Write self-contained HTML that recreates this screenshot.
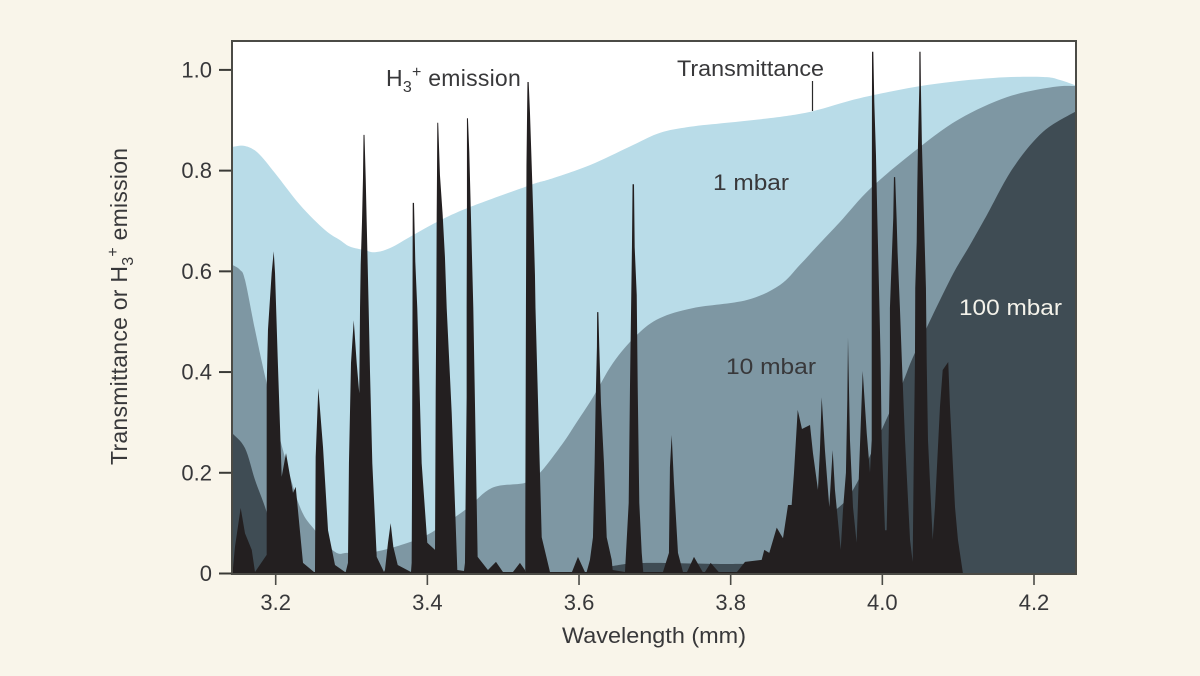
<!DOCTYPE html>
<html lang="en">
<head>
<meta charset="utf-8">
<title>Transmittance and H3+ emission</title>
<style>
  html, body { margin: 0; padding: 0; background: #f9f5ea; }
  body { width: 1200px; height: 676px; overflow: hidden; }
  svg { display: block; }
  text { font-family: "Liberation Sans", sans-serif; fill: #38383a; }
</style>
</head>
<body>
<svg id="chart" xmlns="http://www.w3.org/2000/svg" width="1200" height="676" viewBox="0 0 1200 676">
  <rect x="0" y="0" width="1200" height="676" fill="#f9f5ea"/>
  <rect x="232" y="41" width="844" height="533" fill="#ffffff"/>
  <g id="areas"></g>
  <g id="emission"></g>
  <rect x="232" y="41" width="844" height="533" fill="none" stroke="#4b4b46" stroke-width="2"/>
  <g id="ticks"></g>
  <line x1="812.5" y1="81" x2="812.5" y2="111" stroke="#2a2a2a" stroke-width="1.2"/>

  <text x="386" y="86" font-size="23" letter-spacing="0.25">H<tspan font-size="16" dy="6">3</tspan><tspan font-size="16" dy="-15">+</tspan><tspan dy="9"> emission</tspan></text>
  <text x="677" y="76" font-size="22" textLength="147" lengthAdjust="spacingAndGlyphs">Transmittance</text>
  <text x="713" y="190" font-size="22" textLength="76" lengthAdjust="spacingAndGlyphs">1 mbar</text>
  <text x="726" y="374" font-size="22" textLength="90" lengthAdjust="spacingAndGlyphs">10 mbar</text>
  <text x="959" y="315" font-size="22" textLength="103" lengthAdjust="spacingAndGlyphs" style="fill:#f4f2ea">100 mbar</text>
  <text x="562" y="643" font-size="22" textLength="184" lengthAdjust="spacingAndGlyphs">Wavelength (mm)</text>
  <text transform="translate(127,465) rotate(-90)" x="0" y="0" font-size="23" letter-spacing="0.25">Transmittance or H<tspan font-size="16" dy="6">3</tspan><tspan font-size="16" dy="-15">+</tspan><tspan dy="9"> emission</tspan></text>
</svg>

<script>
// ---- Chart data ----
const xTicks = [3.2, 3.4, 3.6, 3.8, 4.0, 4.2];
const xTickLabels = ["3.2", "3.4", "3.6", "3.8", "4.0", "4.2"];
const yTicks = [0, 0.2, 0.4, 0.6, 0.8, 1.0];
const yTickLabels = ["0", "0.2", "0.4", "0.6", "0.8", "1.0"];

const mbar1Wavelength = [3.1424,3.1595,3.1767,3.1991,3.2320,3.2650,3.2848,3.2980,3.3176,3.3309,3.3505,3.3811,3.4127,3.4535,3.5353,3.5616,3.6144,3.6672,3.7066,3.7463,3.7951,3.8610,3.9081,3.9707,4.0590,4.1461,4.2120,4.2344,4.2554];
const mbar1Values = [0.847,0.849,0.835,0.795,0.732,0.682,0.662,0.649,0.642,0.638,0.646,0.672,0.698,0.726,0.771,0.783,0.811,0.848,0.875,0.887,0.895,0.906,0.918,0.944,0.970,0.984,0.986,0.980,0.969];

const mbar10Wavelength = [3.1424,3.1529,3.1595,3.1727,3.1872,3.2096,3.2320,3.2518,3.2782,3.2953,3.3309,3.3744,3.4061,3.4496,3.4852,3.5287,3.5485,3.5788,3.5946,3.6184,3.6448,3.6765,3.7066,3.7502,3.8214,3.8650,3.8914,3.9178,3.9441,3.9859,4.0496,4.1023,4.1643,4.2250,4.2554];
const mbar10Values = [0.613,0.603,0.583,0.484,0.384,0.245,0.132,0.086,0.043,0.041,0.043,0.061,0.082,0.126,0.170,0.180,0.200,0.259,0.295,0.350,0.418,0.474,0.507,0.527,0.543,0.573,0.613,0.656,0.698,0.767,0.847,0.903,0.946,0.966,0.968];

const mbar100Wavelength = [3.1424,3.1595,3.1727,3.1859,3.1991,3.2122,3.2320,3.3639,3.4958,3.6144,3.6448,3.6896,3.8083,3.8412,3.8914,3.9415,3.9665,4.0008,4.0272,4.0430,4.0892,4.1155,4.1379,4.1722,4.2118,4.2554];
const mbar100Values = [0.279,0.249,0.186,0.132,0.067,0.017,0.003,0.001,0.001,0.003,0.015,0.021,0.019,0.027,0.086,0.130,0.180,0.291,0.380,0.438,0.583,0.652,0.712,0.805,0.877,0.918];

const emissionWavelength = [
  3.1430,3.1463,3.1538,3.1595,3.1684,3.1727,
  3.1881,3.1881,3.1898,3.1947,3.1974,3.1991,3.2026,3.2079,3.2136,3.2228,3.2264,3.2360,3.2505,
  3.2518,3.2527,3.2562,3.2624,3.2690,3.2782,3.2914,
  3.2923,3.2953,3.2966,3.2993,3.3029,3.3068,3.3102,3.3112,3.3121,3.3138,3.3151,3.3158,3.3171,3.3187,3.3200,3.3213,3.3226,3.3244,3.3274,3.3332,3.3428,
  3.3441,3.3481,3.3516,3.3551,3.3609,3.3784,
  3.3793,3.3797,3.3804,3.3807,3.3824,3.3841,3.3867,3.3925,3.3999,3.4101,
  3.4110,3.4118,3.4123,3.4127,3.4131,3.4143,3.4166,3.4202,3.4232,3.4255,3.4321,3.4395,3.4483,
  3.4496,3.4518,3.4518,3.4522,3.4522,3.4535,3.4553,3.4571,3.4589,3.4606,3.4663,3.4799,
  3.4905,3.4997,3.5129,3.5221,3.5287,
  3.5291,3.5291,3.5300,3.5307,3.5320,3.5336,3.5353,3.5376,3.5397,3.5419,3.5426,3.5508,3.5617,
  3.5907,3.5986,3.6078,3.6101,
  3.6144,3.6184,3.6206,3.6219,3.6236,3.6239,3.6255,3.6267,3.6289,3.6329,3.6365,3.6431,3.6444,
  3.6606,3.6655,3.6672,3.6689,3.6698,3.6706,3.6725,3.6734,3.6761,3.6774,3.6795,3.6827,3.6847,
  3.7107,3.7186,3.7199,3.7222,3.7252,3.7305,3.7371,3.7424,3.7516,3.7631,3.7661,3.7736,3.7842,3.8083,3.8189,3.8409,3.8443,3.8509,
  3.8607,3.8690,3.8756,3.8804,3.8835,3.8884,3.8940,3.9046,3.9085,3.9151,3.9177,3.9200,3.9243,3.9300,3.9345,3.9375,3.9451,3.9481,3.9520,3.9538,3.9547,3.9573,3.9613,3.9661,3.9692,3.9741,3.9794,3.9837,
  3.9860,3.9860,3.9863,3.9864,3.9881,3.9894,3.9916,3.9933,3.9959,3.9978,3.9991,4.0035,4.0057,
  4.0083,4.0100,4.0100,4.0127,4.0144,4.0153,4.0169,4.0188,4.0201,4.0232,4.0258,4.0299,4.0365,4.0400,
  4.0417,4.0430,4.0434,4.0453,4.0460,4.0470,4.0487,4.0488,4.0504,4.0509,4.0522,4.0540,4.0558,4.0575,4.0585,4.0602,4.0664,
  4.0694,4.0760,4.0796,4.0869,4.0892,4.0958,4.0997,4.1063
];
const emissionValues = [
  0,0.053,0.130,0.080,0.047,0.003,
  0.037,0.370,0.484,0.597,0.640,0.597,0.430,0.192,0.239,0.160,0.172,0.021,0.003,
  0.003,0.231,0.368,0.251,0.086,0.017,0.003,
  0.003,0.021,0.219,0.418,0.503,0.418,0.358,0.527,0.613,0.698,0.785,0.871,0.871,0.785,0.698,0.613,0.527,0.398,0.219,0.033,0.003,
  0.007,0.061,0.100,0.053,0.017,0.003,
  0.021,0.152,0.527,0.736,0.736,0.619,0.527,0.219,0.061,0.047,
  0.358,0.527,0.712,0.791,0.895,0.895,0.791,0.712,0.628,0.527,0.319,0.007,0.005,
  0.021,0.350,0.527,0.732,0.904,0.904,0.837,0.732,0.626,0.527,0.033,0.007,
  0.023,0.003,0.003,0.021,0.007,
  0.003,0.080,0.527,0.811,0.976,0.976,0.916,0.811,0.712,0.593,0.527,0.072,0.003,
  0.003,0.033,0.003,0.003,
  0.027,0.072,0.219,0.339,0.450,0.519,0.519,0.450,0.339,0.219,0.072,0.027,0.007,
  0.003,0.140,0.370,0.553,0.648,0.773,0.773,0.648,0.553,0.370,0.140,0.041,0.003,
  0.003,0.041,0.211,0.275,0.180,0.041,0.003,0.003,0.033,0.003,0.003,0.021,0.003,0.003,0.023,0.027,0.047,0.041,
  0.091,0.070,0.136,0.136,0.200,0.325,0.287,0.295,0.239,0.166,0.245,0.350,0.245,0.132,0.245,0.166,0.047,0.126,0.200,0.344,0.468,0.265,0.132,0.061,0.200,0.402,0.279,0.200,
  0.265,0.547,0.936,1.036,1.036,0.936,0.831,0.712,0.547,0.420,0.265,0.086,0.086,
  0.265,0.420,0.527,0.638,0.706,0.787,0.787,0.706,0.638,0.527,0.420,0.265,0.067,0.023,
  0.265,0.420,0.567,0.658,0.757,0.851,0.964,1.036,1.036,0.964,0.851,0.757,0.658,0.567,0.420,0.265,0.067,
  0.132,0.331,0.404,0.420,0.331,0.132,0.067,0
];

// ---- Axis functions ----
function xScale(w) { return 275.7 + (w - 3.2) * 758.3; }
function yScale(v) { return 573.5 - v * 503.6; }

const SVG_NS = 'http://www.w3.org/2000/svg';

function smoothArea(wavelengths, values) {
  const pts = wavelengths.map(function (w, i) { return [xScale(w), yScale(values[i])]; });
  let d = 'M' + pts[0][0].toFixed(2) + ' ' + yScale(0).toFixed(2) + ' L' + pts[0][0].toFixed(2) + ' ' + pts[0][1].toFixed(2);
  for (let i = 0; i < pts.length - 1; i++) {
    const p0 = pts[Math.max(0, i - 1)], p1 = pts[i], p2 = pts[i + 1], p3 = pts[Math.min(pts.length - 1, i + 2)];
    const c1x = p1[0] + (p2[0] - p0[0]) / 6, c1y = p1[1] + (p2[1] - p0[1]) / 6;
    const c2x = p2[0] - (p3[0] - p1[0]) / 6, c2y = p2[1] - (p3[1] - p1[1]) / 6;
    d += ' C' + c1x.toFixed(2) + ' ' + c1y.toFixed(2) + ' ' + c2x.toFixed(2) + ' ' + c2y.toFixed(2) + ' ' + p2[0].toFixed(2) + ' ' + p2[1].toFixed(2);
  }
  d += ' L' + pts[pts.length - 1][0].toFixed(2) + ' ' + yScale(0).toFixed(2) + ' Z';
  return d;
}

// ---- Areas ----
const areasGroup = document.getElementById('areas');

const area1 = document.createElementNS(SVG_NS, 'path');


area1.setAttribute('d', smoothArea(mbar1Wavelength, mbar1Values));
area1.setAttribute('fill', '#b9dce8');
areasGroup.appendChild(area1);

const area10 = document.createElementNS(SVG_NS, 'path');


area10.setAttribute('d', smoothArea(mbar10Wavelength, mbar10Values));
area10.setAttribute('fill', '#7e97a3');
areasGroup.appendChild(area10);

const area100 = document.createElementNS(SVG_NS, 'path');


area100.setAttribute('d', smoothArea(mbar100Wavelength, mbar100Values));
area100.setAttribute('fill', '#3f4c54');
areasGroup.appendChild(area100);

// ---- Emission spectrum ----
const emissionGroup = document.getElementById('emission');
let emissionD = 'M' + xScale(emissionWavelength[0]).toFixed(2) + ' ' + yScale(0).toFixed(2);
emissionWavelength.forEach(function (w, i) {
  emissionD += ' L' + xScale(w).toFixed(2) + ' ' + yScale(emissionValues[i]).toFixed(2);
});
emissionD += ' L' + xScale(emissionWavelength[emissionWavelength.length - 1]).toFixed(2) + ' ' + yScale(0).toFixed(2) + ' Z';
const emissionPath = document.createElementNS(SVG_NS, 'path');


emissionPath.setAttribute('d', emissionD);
emissionPath.setAttribute('fill', '#231f20');
emissionGroup.appendChild(emissionPath);

// ---- Ticks ----
const ticksGroup = document.getElementById('ticks');

xTicks.forEach(function (t, i) {
  const line = document.createElementNS(SVG_NS, 'line');
  
  
  line.setAttribute('x1', xScale(t));
  line.setAttribute('x2', xScale(t));
  line.setAttribute('y1', 575);
  line.setAttribute('y2', 585);
  line.setAttribute('stroke', '#4b4b46');
  line.setAttribute('stroke-width', 1.6);
  ticksGroup.appendChild(line);

  const label = document.createElementNS(SVG_NS, 'text');
  
  
  label.setAttribute('x', xScale(t));
  label.setAttribute('y', 610);
  label.setAttribute('text-anchor', 'middle');
  label.setAttribute('font-size', 22);
  label.textContent = xTickLabels[i];
  ticksGroup.appendChild(label);
});

yTicks.forEach(function (t, i) {
  const line = document.createElementNS(SVG_NS, 'line');
  
  
  line.setAttribute('x1', 219);
  line.setAttribute('x2', 231);
  line.setAttribute('y1', yScale(t));
  line.setAttribute('y2', yScale(t));
  line.setAttribute('stroke', '#3a3a36');
  line.setAttribute('stroke-width', 2);
  ticksGroup.appendChild(line);

  const label = document.createElementNS(SVG_NS, 'text');
  
  
  label.setAttribute('x', 212);
  label.setAttribute('y', yScale(t) + 7.5);
  label.setAttribute('text-anchor', 'end');
  label.setAttribute('font-size', 22);
  label.textContent = yTickLabels[i];
  ticksGroup.appendChild(label);
});
</script>
</body>
</html>
